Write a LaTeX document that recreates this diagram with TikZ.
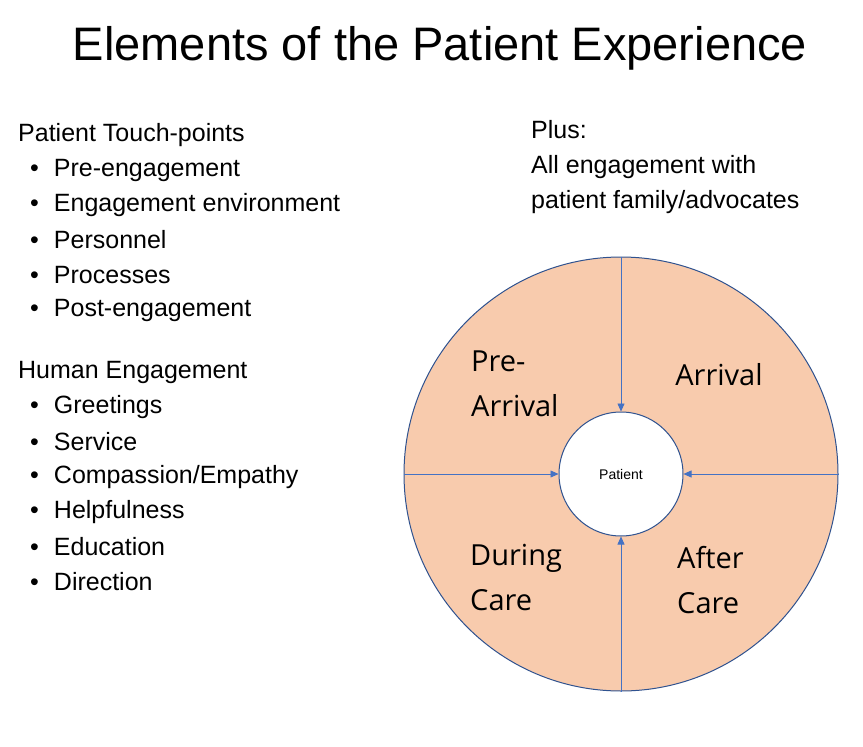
\documentclass[tikz,border=0pt]{standalone}
\usepackage{fontspec}
\setmainfont{Liberation Sans}
\newfontfamily\qf{Open Sans}
\usetikzlibrary{arrows.meta}
\definecolor{fillc}{HTML}{F8CBAD}
\definecolor{edgec}{HTML}{2F528F}
\definecolor{arrc}{HTML}{4472C4}
\begin{document}
\begin{tikzpicture}[x=1pt,y=-1pt,
  lt/.style={anchor=west,inner sep=0pt,font=\fontsize{25}{30}\selectfont},
  bl/.style={lt},
  ql/.style={anchor=west,inner sep=0pt,align=left,font=\qf\fontsize{29}{45}\selectfont},
  ar/.style={draw=arrc,line width=0.6pt,-{Triangle[length=8pt,width=7pt]}}]
\useasboundingbox (0,0) rectangle (863,747);
\node[inner sep=0pt,font=\fontsize{47}{56}\selectfont] (title) at (440,48) {Elements of the Patient Experience};
\node[lt] (t1) at (18,135) {Patient Touch-points};
\foreach \t [count=\i] in {Pre-engagement,Engagement environment,Personnel,Processes,Post-engagement}
  \node[bl] (a\i) at (30,135+35*\i) {\textbullet\hspace{15pt}\t};
\node[lt] (t2) at (18,372) {Human Engagement};
\foreach \t [count=\i] in {Greetings,Service,Compassion/Empathy,Helpfulness,Education,Direction}
  \node[bl] (b\i) at (30,372+35*\i) {\textbullet\hspace{15pt}\t};
\node[lt,align=left,anchor=north west,font=\fontsize{25}{35}\selectfont] (plus) at (531,120) {Plus:\\All engagement with\\patient family/advocates};
\node[circle,draw=edgec,fill=fillc,line width=1pt,minimum size=434pt,inner sep=0pt] (outer) at (621,474) {};
\node[circle,draw=edgec,fill=white,line width=1pt,minimum size=124pt,inner sep=0pt,font=\fontsize{14}{16}\selectfont] (pat) at (621,474) {Patient};
\draw[ar] (outer.north) -- (pat.north);
\draw[ar] (outer.south) -- (pat.south);
\draw[ar] (outer.west) -- (pat.west);
\draw[ar] (outer.east) -- (pat.east);
\node[ql] (pre) at (471,384) {Pre-\\Arrival};
\node[ql,anchor=center] (arr) at (719,375) {Arrival};
\node[ql] (dur) at (470,577) {During\\Care};
\node[ql] (aft) at (677,580) {After\\Care};
\end{tikzpicture}
\end{document}
